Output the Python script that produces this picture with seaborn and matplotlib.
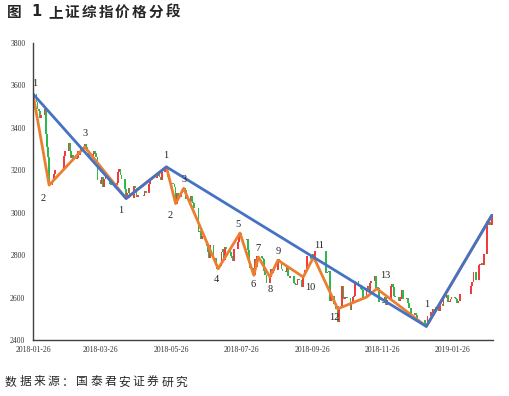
import pandas as pd
import numpy as np
import seaborn as sns
import matplotlib.pyplot as plt
import matplotlib.dates as mdates

# 日收盘价 (按月)
close_2018_01 = [3558, 3523, 3488, 3480]
close_2018_02 = [3447, 3462, 3487, 3370, 3309, 3262, 3130, 3154, 3184, 3199, 3268, 3289, 3329, 3292, 3259]
close_2018_03 = [3274, 3254, 3256, 3290, 3271, 3288, 3307, 3326, 3310, 3291, 3291, 3269, 3279, 3290, 3281,
                 3263, 3153, 3133, 3166, 3122, 3161, 3169]
close_2018_04 = [3163, 3136, 3131, 3138, 3190, 3208, 3180, 3159, 3111, 3067, 3091, 3118, 3071, 3069, 3128,
                 3118, 3075, 3082]
close_2018_05 = [3081, 3101, 3091, 3136, 3161, 3159, 3174, 3163, 3174, 3192, 3170, 3155, 3193, 3214, 3214,
                 3169, 3155, 3141, 3135, 3120, 3041, 3095]
close_2018_06 = [3075, 3092, 3114, 3115, 3109, 3067, 3053, 3080, 3049, 3044, 3022, 2908, 2916, 2876, 2890,
                 2860, 2844, 2814, 2787, 2847]
close_2018_07 = [2776, 2786, 2760, 2734, 2747, 2815, 2827, 2777, 2837, 2831, 2814, 2798, 2788, 2773, 2829,
                 2860, 2905, 2904, 2882, 2873, 2870, 2876]
close_2018_08 = [2825, 2768, 2740, 2705, 2780, 2745, 2794, 2795, 2786, 2780, 2723, 2706, 2669, 2698, 2733,
                 2714, 2724, 2730, 2781, 2777, 2770, 2737, 2725]
close_2018_09 = [2721, 2750, 2704, 2691, 2703, 2669, 2665, 2657, 2686, 2682, 2652, 2700, 2731, 2730, 2797,
                 2781, 2806, 2792, 2821]
close_2018_10 = [2717, 2721, 2725, 2583, 2606, 2568, 2546, 2561, 2486, 2550, 2654, 2595, 2604, 2603, 2599,
                 2542, 2568, 2603]
close_2018_11 = [2606, 2676, 2665, 2659, 2641, 2635, 2599, 2630, 2654, 2632, 2668, 2679, 2703, 2645, 2651,
                 2645, 2580, 2575, 2575, 2602, 2567, 2588]
close_2018_12 = [2655, 2666, 2649, 2606, 2605, 2585, 2594, 2602, 2634, 2594, 2597, 2576, 2550, 2549, 2517,
                 2527, 2520, 2499, 2483, 2494]
close_2019_01 = [2465, 2464, 2515, 2533, 2526, 2545, 2535, 2554, 2536, 2570, 2570, 2559, 2596, 2610, 2580,
                 2581, 2591, 2602, 2597, 2594, 2575, 2585]
close_2019_02 = [2619, 2653, 2672, 2721, 2720, 2682, 2755, 2755, 2761, 2752, 2804, 2961, 2941, 2954, 2941]
close_2019_03 = [2994]
first_open = 3545

holidays = ['2018-02-15', '2018-02-16', '2018-02-19', '2018-02-20', '2018-02-21', '2018-04-05', '2018-04-06',
            '2018-04-30', '2018-05-01', '2018-06-18', '2018-09-24', '2018-10-01', '2018-10-02', '2018-10-03',
            '2018-10-04', '2018-10-05', '2018-12-31', '2019-01-01', '2019-02-04', '2019-02-05', '2019-02-06',
            '2019-02-07', '2019-02-08']

# 分段拐点
orange_dates = ['2018-01-26', '2018-02-09', '2018-03-12', '2018-04-17', '2018-05-22', '2018-05-30',
                '2018-06-06', '2018-07-06', '2018-07-25', '2018-08-06', '2018-08-10', '2018-08-20',
                '2018-08-27', '2018-09-18', '2018-09-27', '2018-10-18', '2018-11-12', '2018-11-21',
                '2019-01-03', '2019-03-01']
orange_vals = [3560, 3130, 3310, 3067, 3216, 3043, 3115, 2736, 2904, 2705, 2791, 2697, 2776, 2697, 2791,
               2547, 2602, 2642, 2464, 2988]
blue_dates = ['2018-01-26', '2018-04-17', '2018-05-22', '2019-01-03', '2019-03-01']
blue_vals = [3560, 3067, 3216, 2464, 2988]

point_labels = ['1', '2', '3', '1', '1', '2', '3', '4', '5', '6', '7', '8', '9', '10', '11', '12', '', '13', '1', '']
label_offsets = [(2, 10), (-6, -13), (0, 13), (-5, -12), (-1, 11), (-5, -12), (0, 9), (-2, -11), (-2, 9),
                 (-1, -9), (0, 9), (0, -13), (0, 9), (7, -11), (5, 12), (-3, -9), (0, 0), (8, 13), (0, 22), (0, 0)]

xtick_dates = ['2018-01-26', '2018-03-26', '2018-05-26', '2018-07-26', '2018-09-26', '2018-11-26', '2019-01-26']

title_head = ['图', '1']
title_body = '上证综指价格分段'
source_text = '数据来源：国泰君安证券研究'

closes = (close_2018_01 + close_2018_02 + close_2018_03 + close_2018_04 + close_2018_05 + close_2018_06 +
          close_2018_07 + close_2018_08 + close_2018_09 + close_2018_10 + close_2018_11 + close_2018_12 +
          close_2019_01 + close_2019_02 + close_2019_03)
days = pd.bdate_range('2018-01-26', '2019-03-01')
days = days[~days.isin(pd.to_datetime(holidays))]

df = pd.DataFrame({'date': days, 'close': closes})
df['open'] = [first_open] + closes[:-1]
df['up'] = df['close'] >= df['open']

sns.set_style('white')
plt.rcParams['font.family'] = ['Noto Sans CJK SC', 'DejaVu Sans']

W, H = 510, 396
fig = plt.figure(figsize=(W / 100, H / 100), dpi=100)
ax = fig.add_axes([33 / W, 1 - 340 / H, 460 / W, 297 / H])

# K线
bottoms = df[['open', 'close']].min(axis=1)
heights = (df['close'] - df['open']).abs().clip(lower=2)
colors = np.where(df['up'], '#f03c3c', '#2fb84e')
ax.bar(mdates.date2num(df['date']), heights, bottom=bottoms, width=1.5, color=colors, linewidth=0)

seg_o = pd.DataFrame({'date': pd.to_datetime(orange_dates), 'v': orange_vals})
seg_b = pd.DataFrame({'date': pd.to_datetime(blue_dates), 'v': blue_vals})
sns.lineplot(data=seg_o, x='date', y='v', color='#ed7d31', linewidth=2.0, ax=ax)
sns.lineplot(data=seg_b, x='date', y='v', color='#4472c4', linewidth=2.0, ax=ax)

for d, v, t, off in zip(orange_dates, orange_vals, point_labels, label_offsets):
    if t:
        ax.annotate(t, (mdates.date2num(pd.Timestamp(d)), v), xytext=off, textcoords='offset pixels',
                    ha='center', va='center', fontsize=7.5, family='Liberation Serif', color='#222222')

ax.set_ylim(2400, 3800)
ax.set_yticks(np.arange(2400, 3801, 200))
ax.set_xlim(mdates.date2num(pd.Timestamp('2018-01-26')), mdates.date2num(pd.Timestamp('2019-03-02')))
ax.set_xticks(mdates.date2num(pd.to_datetime(xtick_dates)))
ax.set_xticklabels(xtick_dates)
ax.set_xlabel('')
ax.set_ylabel('')
for lab in ax.get_xticklabels() + ax.get_yticklabels():
    lab.set_family('Liberation Serif')
    lab.set_fontsize(5.5)
    lab.set_color('#333333')
ax.tick_params(axis='both', direction='in', length=2.5, width=0.8, color='#404040')
ax.tick_params(axis='y', pad=5.5)
ax.tick_params(axis='x', pad=4)
for s in ['top', 'right']:
    ax.spines[s].set_visible(False)
for s in ['left', 'bottom']:
    ax.spines[s].set_color('#404040')
    ax.spines[s].set_linewidth(1.0)

# 标题 (字距较宽, 逐字放置)
fig.text(7 / W, 1 - 12 / H, title_head[0], fontsize=10.5, fontweight='bold', va='center', ha='left')
fig.text(31 / W, 1 - 12 / H, title_head[1], fontsize=10.5, fontweight='bold', va='center', ha='left',
         family='DejaVu Sans')
for i, ch in enumerate(title_body):
    fig.text((48 + i * 16.75) / W, 1 - 12 / H, ch, fontsize=10.5, fontweight='bold', va='center', ha='left')

for i, ch in enumerate(source_text):
    fig.text((5 + i * 14.2) / W, 1 - 382 / H, ch, fontsize=8.5, va='center', ha='left')

plt.savefig('out.png', dpi=100)
